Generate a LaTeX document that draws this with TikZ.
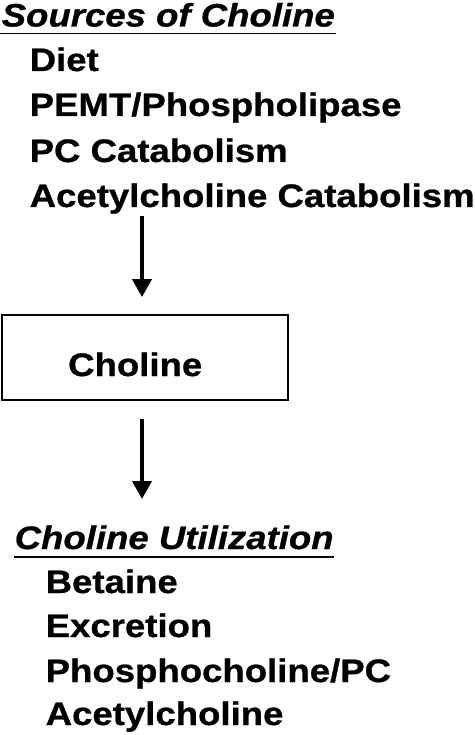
\documentclass[tikz,border=0pt]{standalone}
\usepackage{fontspec}
\setmainfont{Liberation Sans}[FakeStretch=1.125,BoldFeatures={FakeBold=0.8},BoldItalicFeatures={FakeBold=0.8}]
\usetikzlibrary{arrows.meta}
\begin{document}
\begin{tikzpicture}[x=1pt,y=-1pt,
  txt/.style={anchor=base west,inner sep=0pt,font=\fontsize{32.5}{36}\selectfont\bfseries},
  head/.style={txt,font=\fontsize{32.5}{36}\selectfont\bfseries\itshape},
  uline/.style={line width=1.5pt},
  boxst/.style={draw,line width=1.8pt,minimum width=286pt,minimum height=85pt,inner sep=0pt},
  arr/.style={line width=4pt,-{Triangle[width=19pt,length=18pt]}}]
\useasboundingbox (0,0) rectangle (474,735);
\fill[white] (0,0) rectangle (474,735);
% sources
\node[head] (src) at (1.5,26.5) {Sources of Choline};
\draw[uline] (0,33.3) coordinate (u1a) -- (336,33.3) coordinate (u1b);
\node[txt] (diet) at (29.5,71) {Diet};
\node[txt] (pemt) at (29.5,116) {PEMT/Phospholipase};
\node[txt] (pcc) at (29.5,162) {PC Catabolism};
\node[txt] (acc) at (29.5,207) {Acetylcholine Catabolism};
% box
\node[boxst] (box) at (145,357.5) {};
\node[txt] (cho) at (68,376) {Choline};
% arrows
\coordinate (a1s) at (142,216);
\draw[arr,shorten >=17pt] (a1s) -- (box.north -| a1s);
\coordinate (a2e) at (142,499);
\draw[arr,shorten <=18pt] (box.south -| a2e) -- (a2e);
% utilization
\node[head] (use) at (14.5,549) {Choline Utilization};
\draw[uline] (14,557) coordinate (u2a) -- (334,557) coordinate (u2b);
\node[txt] (bet) at (45.5,593) {Betaine};
\node[txt] (exc) at (45.5,637) {Excretion};
\node[txt] (pho) at (45.5,682) {Phosphocholine/PC};
\node[txt] (ach) at (45.5,725) {Acetylcholine};
\end{tikzpicture}
\end{document}
